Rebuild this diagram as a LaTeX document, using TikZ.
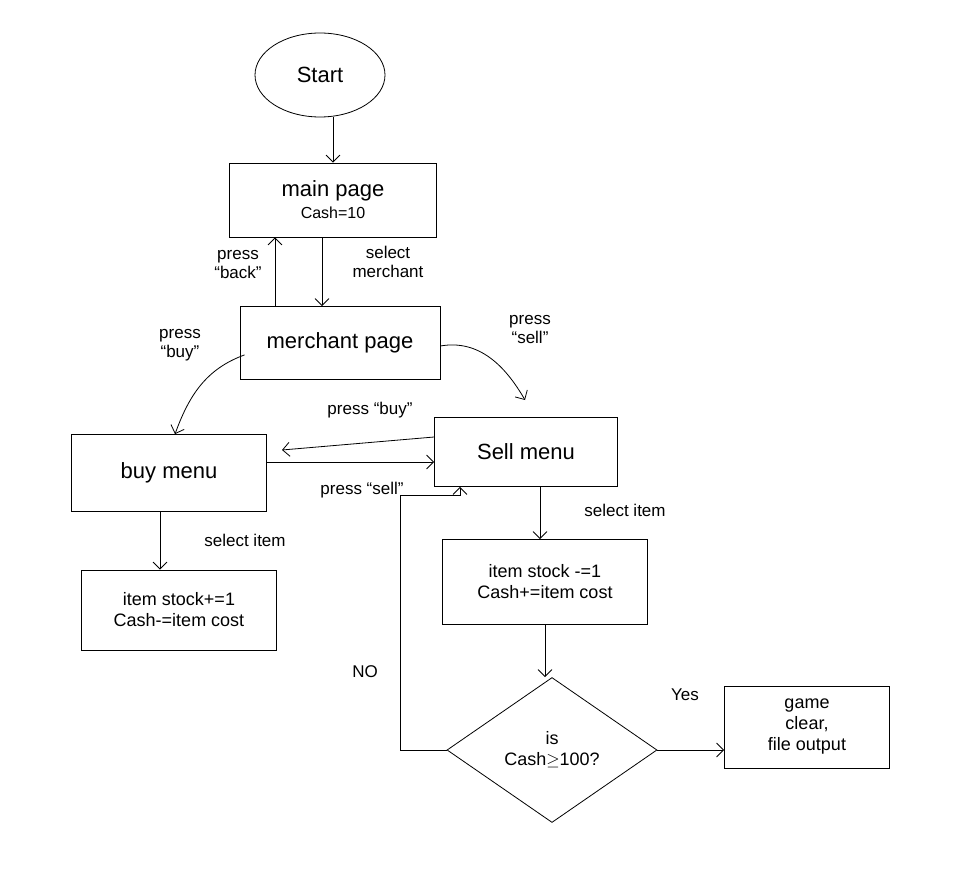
\documentclass[tikz,border=0pt]{standalone}
\usepackage{fontspec}
\setmainfont{Liberation Sans}
\usetikzlibrary{shapes.geometric,arrows.meta}
\begin{document}
\begin{tikzpicture}[x=1pt,y=-1pt,
  lbl/.style={font=\fontsize{17}{19}\selectfont,align=center},
  arr/.style={thick,-{Straight Barb[length=7pt]}},
  big/.style={font=\fontsize{22}{25}\selectfont,align=center},
  mid/.style={font=\fontsize{18}{21}\selectfont,align=center}]
\useasboundingbox[fill=white] (0,0) rectangle (980,896);
\node[draw,thick,ellipse,minimum width=130,minimum height=84,big] (start) at (320,75) {Start};
\node[draw,thick,minimum width=207,minimum height=74,big] (main) at (333,200) {main page\\[-3pt]{\fontsize{16}{18}\selectfont Cash=10}};
\node[draw,thick,minimum width=200,minimum height=73,big] (merch) at (340,343) {merchant page};
\node[draw,thick,minimum width=195,minimum height=77,big] (buy) at (169,473) {buy menu};
\node[draw,thick,minimum width=183,minimum height=69,big] (sell) at (526,452) {Sell menu};
\node[draw,thick,minimum width=195,minimum height=80,mid] (bitem) at (179,610) {item stock+=1\\Cash-=item cost};
\node[draw,thick,minimum width=205,minimum height=85,mid] (sitem) at (545,582) {item stock -=1\\Cash+=item cost};
\node[draw,thick,diamond,minimum width=210,minimum height=145,inner sep=0,mid] (dec) at (552,750) {is\\Cash$\geq$100?};
\node[draw,thick,minimum width=165,minimum height=82,mid] (clear) at (807,727) {game\\clear,\\file output};
\draw[arr] (start.south -| main.north) -- (main.north);
\draw[arr] (merch.north -| 275,0) -- (main.south -| 275,0);
\draw[arr] (main.south -| 322,0) -- (merch.north -| 322,0);
\node[lbl] (l1) at (238,265) {press\\``back''};
\node[lbl] (l2) at (388,262) {select\\merchant};
\node[lbl] (l3) at (180,345) {press\\``buy''};
\node[lbl] (l4) at (530,330) {press\\``sell''};
\draw[arr] (merch.south west) ++(5,-25) coordinate (a1) to[out=200,in=70] (buy.north -| 175,0);
\draw[arr] (merch.east) ++(0,3) coordinate (a2) to[out=10,in=120] (525,400);
\draw[arr] (sell.west |- 0,437) -- (282,450);
\draw[arr] (buy.east |- 0,462) -- (sell.west |- 0,462);
\node[lbl] (l5) at (370,410) {press ``buy''};
\node[lbl] (l6) at (362,490) {press ``sell''};
\draw[arr] (buy.south -| 160,0) -- (bitem.north -| 160,0);
\node[lbl] (l7) at (245,540) {select item};
\draw[arr] (sell.south -| 540,0) -- (sitem.north -| 540,0);
\node[lbl] (l8) at (625,510) {select item};
\draw[arr] (sitem.south -| 545,0) -- (dec.north -| 545,0);
\draw[arr] (dec.east) -- (clear.west |- dec.east);
\node[lbl] (l9) at (685,695) {Yes};
\draw[arr] (dec.west) -- (400,750) -- (400,495) -- (460,495) -- (sell.south -| 460,0);
\node[lbl] (l10) at (365,672) {NO};
\end{tikzpicture}
\end{document}
